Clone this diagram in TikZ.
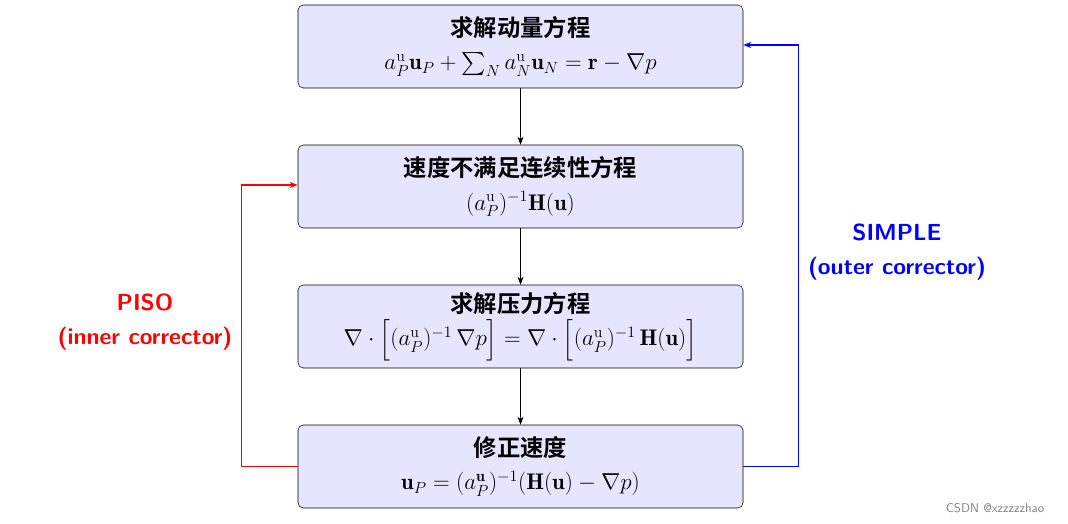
\documentclass[tikz,border=0pt]{standalone}
\usepackage{amsmath}
\usepackage{fontspec}
\newfontfamily\cjk{Noto Sans CJK SC}[BoldFont={Noto Sans CJK SC Bold}]
\usetikzlibrary{arrows.meta}
\begin{document}
\begin{tikzpicture}[x=0.75pt,y=-0.75pt,
  box/.style={draw=black,fill=blue!10,rounded corners=4pt,minimum width=445*0.75pt,minimum height=83*0.75pt,align=center,inner sep=0pt,font=\fontsize{17}{25}\selectfont},
  ar/.style={-{Stealth[length=6pt]},thin},
  lab/.style={font=\sffamily\bfseries\fontsize{17.4}{20}\selectfont,align=center}]
\useasboundingbox (0,0) rectangle (1068,524);
\node[box] (b1) at (520.5,46.5) {{\cjk\bfseries\fontsize{17.5}{20}\selectfont 求解动量方程}\\ $a_P^{\mathrm{u}}\mathbf{u}_P+\sum_N a_N^{\mathrm{u}}\mathbf{u}_N=\mathbf{r}-\nabla p$};
\node[box] (b2) at (520.5,186.5) {{\cjk\bfseries\fontsize{17.5}{20}\selectfont 速度不满足连续性方程}\\ $(a_P^{\mathrm{u}})^{-1}\mathbf{H}(\mathbf{u})$};
\node[box] (b3) at (520.5,326.5) {{\cjk\bfseries\fontsize{17.5}{20}\selectfont 求解压力方程}\\ $\nabla\cdot\Bigl[(a_P^{\mathrm{u}})^{-1}\,\nabla p\Bigr]=\nabla\cdot\Bigl[(a_P^{\mathrm{u}})^{-1}\,\mathbf{H}(\mathbf{u})\Bigr]$};
\node[box] (b4) at (520.5,466.5) {{\cjk\bfseries\fontsize{17.5}{20}\selectfont 修正速度}\\ $\mathbf{u}_P=(a_P^{\mathbf{u}})^{-1}(\mathbf{H}(\mathbf{u})-\nabla p)$};
\draw[ar] (b1) -- (b2);
\draw[ar] (b2) -- (b3);
\draw[ar] (b3) -- (b4);
\draw[ar,red,line width=1.1pt] (b4.west) -- ++(-56,0) |- ([yshift=1.5*0.75pt]b2.west);
\draw[ar,blue,line width=1.1pt] (b4.east) -- ++(55,0) |- ([yshift=1.5*0.75pt]b1.east);
\node[lab,red] (piso) at (145,322) {PISO\\[6pt](inner corrector)};
\node[lab,blue] (simple) at (897,252) {SIMPLE\\[6pt](outer corrector)};
\node[text=gray,font=\sffamily\fontsize{9.5}{10}\selectfont] (wm) at (995,508) {CSDN @xzzzzzhao};
\end{tikzpicture}
\end{document}
